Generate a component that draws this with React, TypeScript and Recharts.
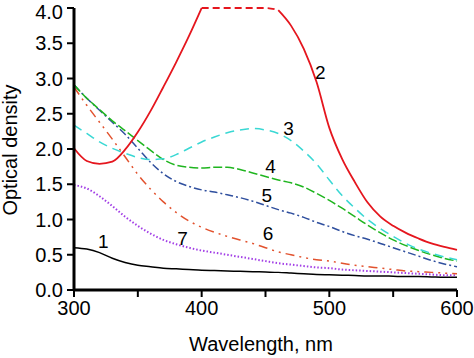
import { LineChart, Line, XAxis, YAxis, Label, ReferenceDot } from 'recharts';

const wavelengths = [
  300, 310, 320, 330, 340, 350, 360, 370, 380, 390, 400, 410, 420, 430, 440, 450,
  460, 470, 480, 490, 500, 510, 520, 530, 540, 550, 560, 570, 580, 590, 600,
];

const od1 = [
  0.6, 0.58, 0.53, 0.45, 0.39, 0.35, 0.33, 0.31, 0.3, 0.29, 0.28, 0.275, 0.27, 0.265, 0.26, 0.255,
  0.25, 0.24, 0.23, 0.22, 0.215, 0.21, 0.205, 0.2, 0.2, 0.195, 0.19, 0.19, 0.185, 0.18, 0.18,
];
// curve 2 is off-scale between ~400 and ~460 nm, drawn dashed there
const od2 = [
  2.01, 1.83, 1.79, 1.82, 1.99, 2.24, 2.54, 2.88, 3.23, 3.6, 4.0, null, null, null, null, null,
  3.97, 3.75, 3.42, 2.95, 2.3, 1.86, 1.53, 1.24, 1.04, 0.91, 0.81, 0.73, 0.66, 0.61, 0.57,
];
const od2Top = [
  null, null, null, null, null, null, null, null, null, null, 4.0, 4.0, 4.0, 4.0, 4.0, 4.0,
  3.97, null, null, null, null, null, null, null, null, null, null, null, null, null, null,
];
const od3 = [
  2.34, 2.22, 2.1, 2.01, 1.94, 1.88, 1.85, 1.86, 1.92, 2.01, 2.1, 2.17, 2.23, 2.27, 2.29, 2.27,
  2.22, 2.12, 1.97, 1.79, 1.56, 1.34, 1.16, 1.0, 0.87, 0.76, 0.66, 0.58, 0.52, 0.47, 0.43,
];
const od4 = [
  2.91, 2.72, 2.56, 2.4, 2.26, 2.12, 1.98, 1.85, 1.77, 1.74, 1.73, 1.74, 1.74, 1.71, 1.66, 1.61,
  1.56, 1.52, 1.46, 1.37, 1.27, 1.16, 1.04, 0.92, 0.81, 0.71, 0.63, 0.56, 0.5, 0.45, 0.41,
];
const od5 = [
  2.91, 2.72, 2.55, 2.38, 2.21, 2.01, 1.81, 1.65, 1.54, 1.47, 1.42, 1.39, 1.35, 1.31, 1.26, 1.2,
  1.14, 1.09, 1.03, 0.96, 0.9, 0.83, 0.77, 0.72, 0.66, 0.6, 0.54, 0.48, 0.42, 0.37, 0.33,
];
const od6 = [
  2.88, 2.62, 2.38, 2.14, 1.89, 1.64, 1.43, 1.25, 1.1, 0.98, 0.89, 0.82, 0.76, 0.71, 0.66, 0.6,
  0.54, 0.5, 0.46, 0.43, 0.41, 0.38, 0.35, 0.33, 0.31, 0.29, 0.27, 0.26, 0.25, 0.24, 0.23,
];
const od7 = [
  1.49, 1.44, 1.33, 1.19, 1.04, 0.91, 0.8, 0.71, 0.65, 0.6, 0.56, 0.53, 0.5, 0.47, 0.44, 0.41,
  0.38, 0.36, 0.34, 0.32, 0.31, 0.29, 0.28, 0.27, 0.26, 0.25, 0.24, 0.23, 0.22, 0.21, 0.21,
];

const xTicks = [300, 350, 400, 450, 500, 550, 600];
const yTicks = [0, 0.5, 1, 1.5, 2, 2.5, 3, 3.5, 4];

// curve numbers: [text, wavelength, optical density]
const curveLabels: [string, number, number][] = [
  ['1', 323, 0.69],
  ['2', 493, 3.09],
  ['3', 468, 2.3],
  ['4', 454, 1.75],
  ['5', 451, 1.35],
  ['6', 452, 0.81],
  ['7', 385, 0.74],
];

const data = wavelengths.map((nm, i) => ({
  nm,
  c1: od1[i],
  c2: od2[i],
  c2top: od2Top[i],
  c3: od3[i],
  c4: od4[i],
  c5: od5[i],
  c6: od6[i],
  c7: od7[i],
}));

const font = '"Liberation Sans", Arial, sans-serif';
const tickStyle = { fill: '#000', fontSize: 20, fontFamily: font };

export default function App() {
  return (
    <div style={{ position: 'absolute', left: 0, top: 0, background: '#fff' }}>
      <LineChart width={474} height={358} data={data} margin={{ top: 8, right: 17, bottom: 0, left: 0 }}>
        <XAxis
          dataKey="nm"
          type="number"
          domain={[300, 600]}
          ticks={xTicks}
          tickFormatter={(v: number) => (v % 100 === 0 ? String(v) : '')}
          height={68}
          tickSize={7}
          tickMargin={4}
          tick={tickStyle}
          axisLine={{ stroke: '#000', strokeWidth: 3 }}
          tickLine={{ stroke: '#000', strokeWidth: 2 }}
        >
          <Label
            content={() => (
              <text x={261} y={351} textAnchor="middle" fontSize={20} fontFamily={font} fill="#000">
                Wavelength, nm
              </text>
            )}
          />
        </XAxis>
        <YAxis
          type="number"
          domain={[0, 4]}
          ticks={yTicks}
          tickFormatter={(v: number) => v.toFixed(1)}
          width={74}
          tickSize={7}
          tickMargin={4}
          tick={tickStyle}
          axisLine={{ stroke: '#000', strokeWidth: 3 }}
          tickLine={{ stroke: '#000', strokeWidth: 2 }}
        >
          <Label
            content={() => (
              <text
                x={17}
                y={150}
                textAnchor="middle"
                fontSize={20}
                fontFamily={font}
                fill="#000"
                transform="rotate(-90, 17, 150)"
              >
                Optical density
              </text>
            )}
          />
        </YAxis>

        <Line type="monotone" dataKey="c1" stroke="#000" strokeWidth={1.5} dot={false} isAnimationActive={false} />
        <Line type="monotone" dataKey="c7" stroke="#a23ee6" strokeWidth={2} strokeDasharray="1.5 2" dot={false} isAnimationActive={false} />
        <Line type="monotone" dataKey="c6" stroke="#e2522e" strokeWidth={1.5} strokeDasharray="9 5 2 5 2 5" dot={false} isAnimationActive={false} />
        <Line type="monotone" dataKey="c5" stroke="#2f4f9e" strokeWidth={1.5} strokeDasharray="8 3 2 3" dot={false} isAnimationActive={false} />
        <Line type="monotone" dataKey="c4" stroke="#1fb51f" strokeWidth={1.5} strokeDasharray="9 3" dot={false} isAnimationActive={false} />
        <Line type="monotone" dataKey="c3" stroke="#3ad8d4" strokeWidth={1.5} strokeDasharray="9 6" dot={false} isAnimationActive={false} />
        <Line type="monotone" dataKey="c2" stroke="#e5161e" strokeWidth={1.8} dot={false} connectNulls={false} isAnimationActive={false} />
        <Line type="monotone" dataKey="c2top" stroke="#e5161e" strokeWidth={1.8} strokeDasharray="7 4" dot={false} connectNulls={false} isAnimationActive={false} />

        {curveLabels.map(([text, nm, od]) => (
          <ReferenceDot
            key={text}
            x={nm}
            y={od}
            r={0}
            fill="none"
            stroke="none"
            label={{ value: text, position: 'center', fill: '#000', fontSize: 19, fontFamily: font }}
          />
        ))}
      </LineChart>
    </div>
  );
}
